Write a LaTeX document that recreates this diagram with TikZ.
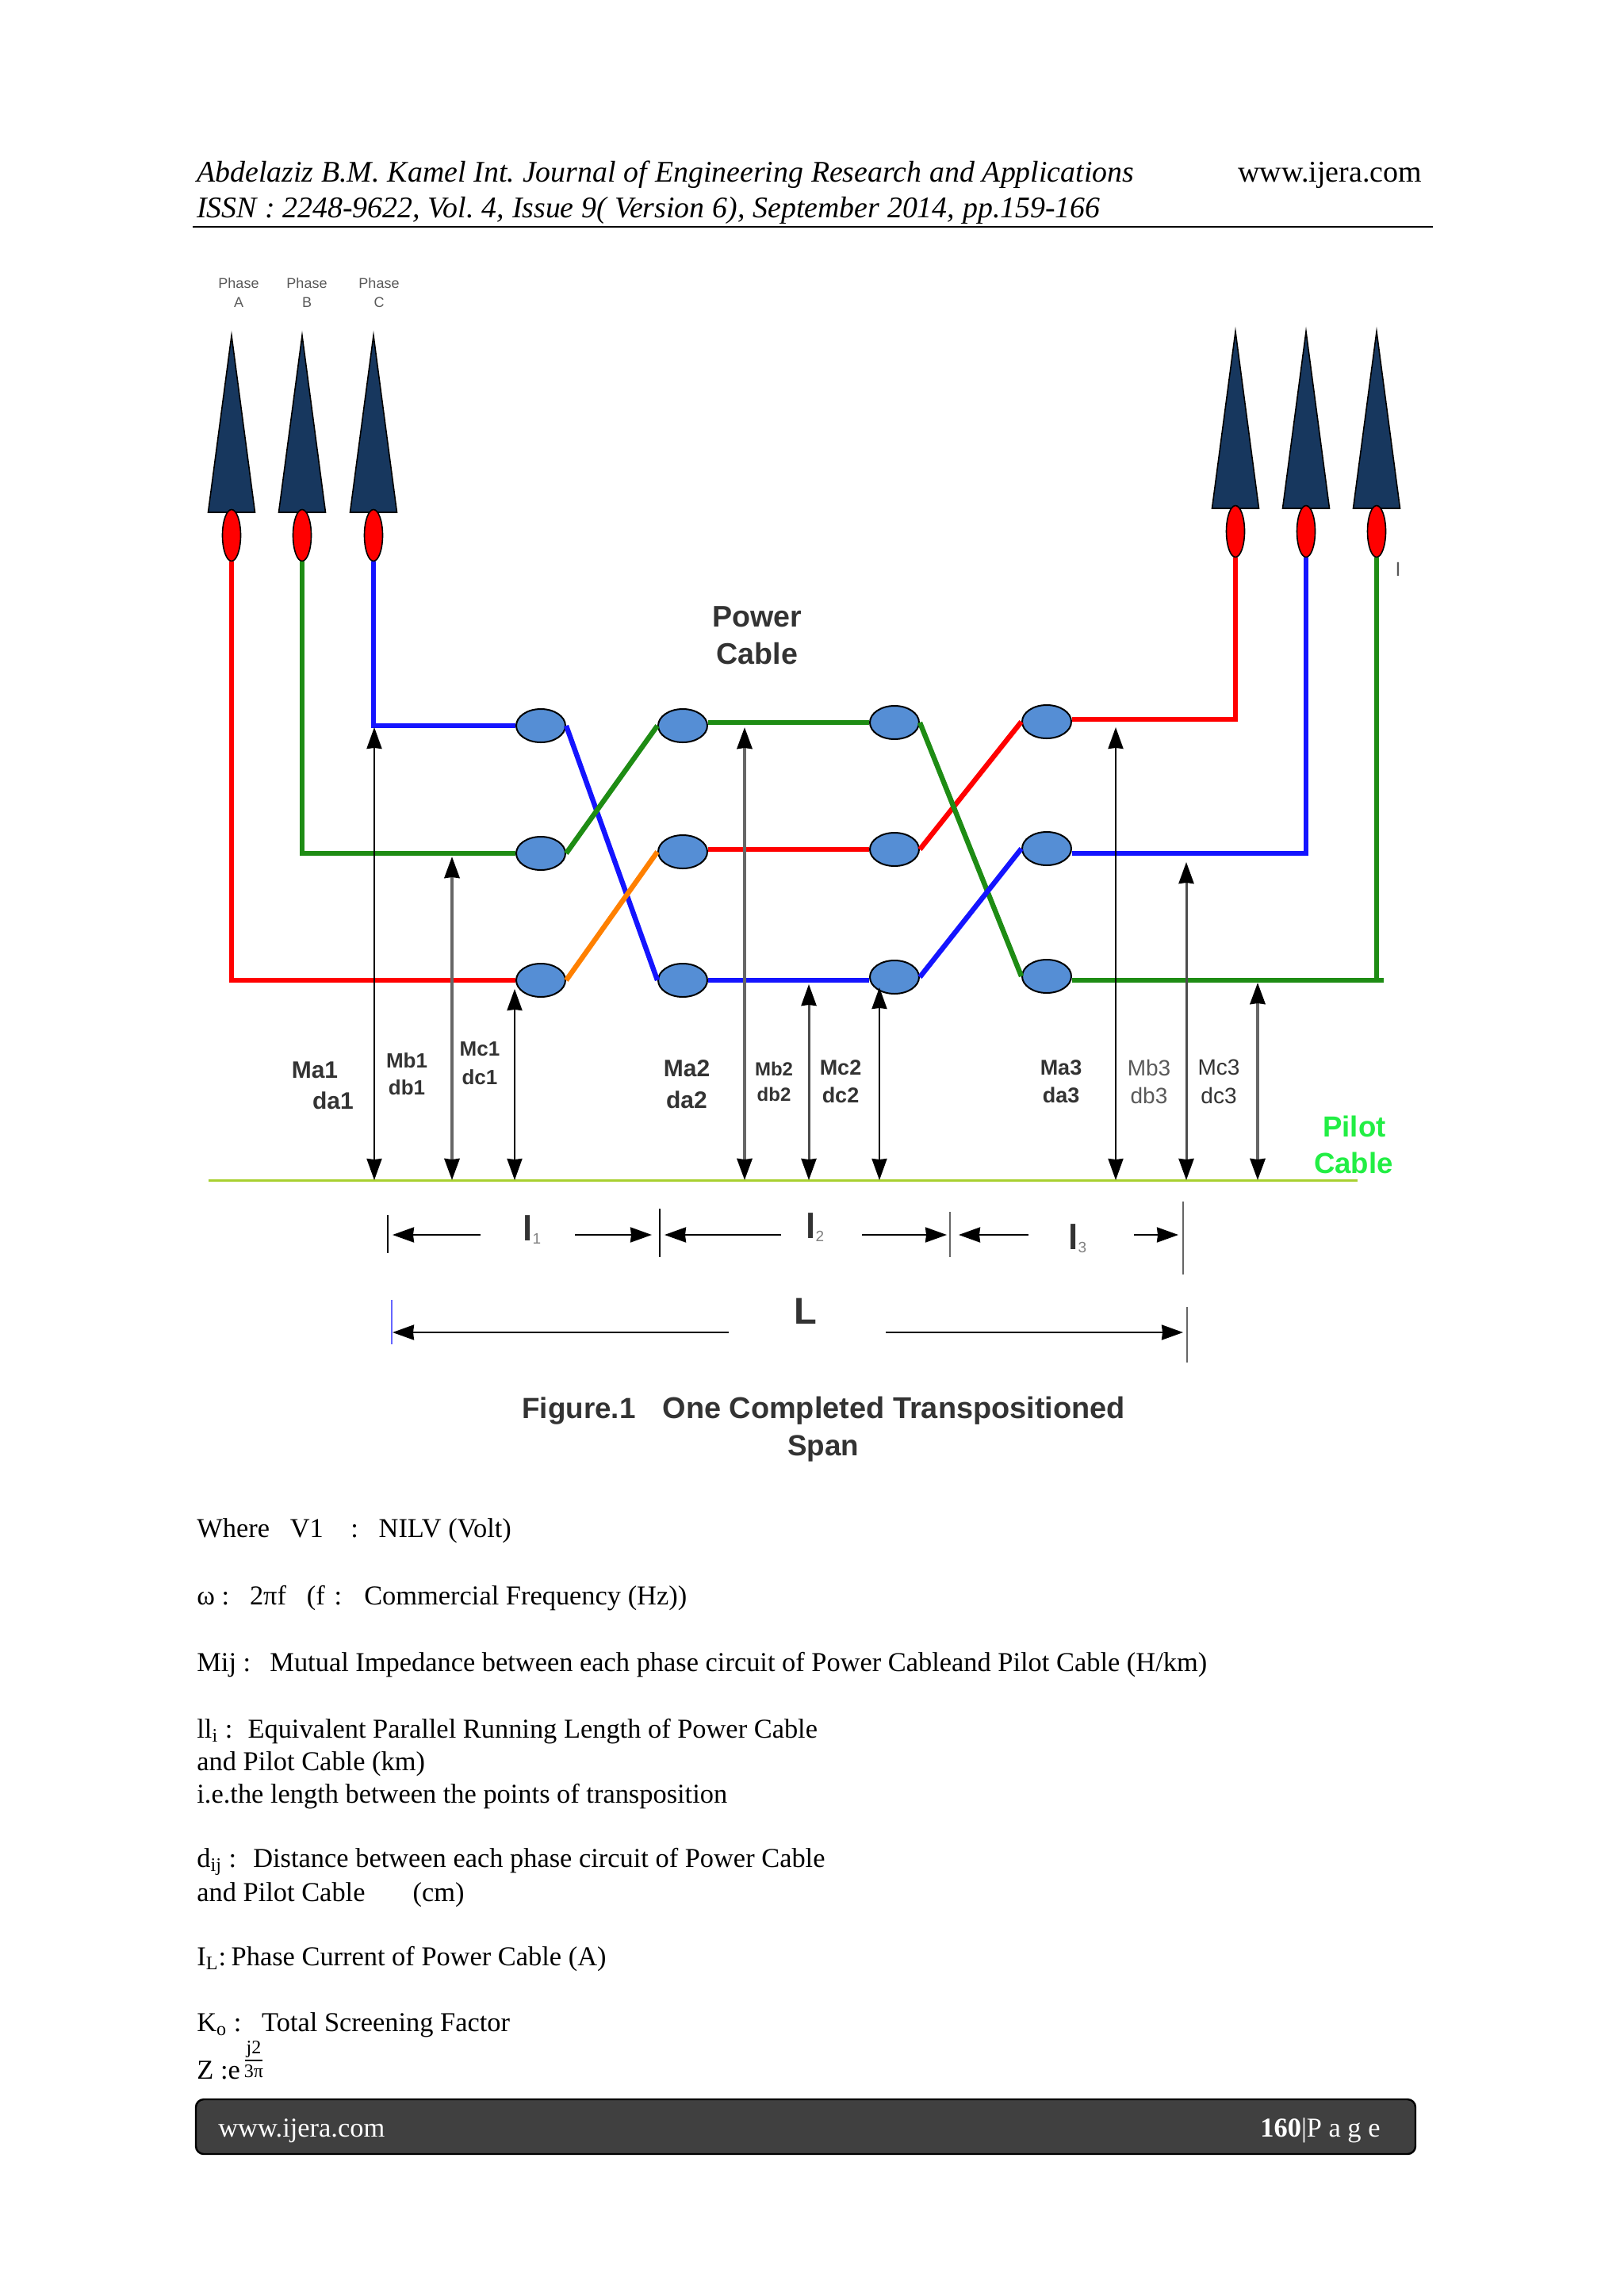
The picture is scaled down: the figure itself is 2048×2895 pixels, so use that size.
\documentclass[tikz,border=0pt]{standalone}
\usepackage{fontspec}
\setmainfont{Liberation Serif}
\newfontfamily\arialf{Liberation Sans}
\usetikzlibrary{arrows.meta,shapes.geometric}
\frenchspacing
\definecolor{polecol}{HTML}{17375E}
\definecolor{jointcol}{HTML}{558ED5}
\definecolor{wgreen}{HTML}{1E8C14}
\definecolor{wblue}{HTML}{1414FF}
\definecolor{pilotcol}{HTML}{A8D030}
\definecolor{pilottxt}{HTML}{22EE44}
\definecolor{footcol}{HTML}{404040}
\newcommand{\lsub}[1]{l\raisebox{-2pt}{\textcolor{black!50}{\mdseries\fontsize{9.5}{9.5}\selectfont #1}}}
\newcommand{\hdgap}{\spaceskip .265em\relax}
\tikzset{
    joint/.style={ellipse,draw=black,line width=1pt,fill=jointcol,minimum width=31pt,minimum height=21pt,inner sep=0pt},
    insul/.style={ellipse,draw=black,line width=.8pt,fill=red,minimum width=11.5pt,minimum height=32.5pt,inner sep=0pt},
    polebody/.style={draw=black,line width=.8pt,fill=polecol},
    wire/.style={line width=3.2pt,line cap=butt,line join=miter},
    thinarr/.style={line width=1.2pt,draw=black},
    greyarr/.style={line width=2pt,draw=black!60},
    midarr/.style={line width=1.5pt,draw=black!70},
    dimarr/.style={line width=1.2pt,draw=black},
    body/.style={anchor=base west,inner sep=0pt,font=\fontsize{17.2}{20}\selectfont},
    head/.style={anchor=base west,inner sep=0pt,font=\itshape\fontsize{18.9}{22}\selectfont\hdgap},
    lab/.style={inner sep=0pt,text=black!80,font=\arialf\bfseries\fontsize{#1}{#1}\selectfont},
    plainlab/.style={inner sep=0pt,text=black!65,font=\arialf\fontsize{#1}{#1}\selectfont}
}
\begin{document}
\begin{tikzpicture}[x=.5pt,y=-.5pt,>={Stealth[length=13.5pt,width=9.5pt,inset=.5pt,color=black]}]
    \useasboundingbox (0,0) rectangle (2048,2895);
    \node[head] (hda) at (248,230) {Abdelaziz B.M. Kamel Int. Journal of Engineering Research and Applications};
    \node[head] (hdb) at (248,274) {ISSN : 2248-9622, Vol. 4, Issue 9( Version 6), September 2014, pp.159-166};
    \node[anchor=base west,inner sep=0pt,font=\fontsize{19}{22}\selectfont] (hdc) at (1561,230) {www.ijera.com};
    \coordinate (rulea) at (243,286);
    \coordinate (ruleb) at (1807,286);
    \draw[line width=1pt] (rulea)--(ruleb);
    \foreach \x/\n/\t in {301/a/A,387/b/B,478/c/C}
    {
        \node[plainlab=9] (pt\n) at (\x,357) {Phase};
        \node[plainlab=9] (pl\n) at (\x,381) {\t};
    }
    \foreach \x/\n in {292/a,381/b,471/c}
    {
        \draw[polebody] ({\x-29.5},646)--(\x,423)--({\x+29.5},646)--cycle;
        \node[insul] (i\n) at (\x,675) {};
    }
    \foreach \x/\n in {1558/a,1647/b,1736/c}
    {
        \draw[polebody] ({\x-29.5},641)--(\x,418)--({\x+29.5},641)--cycle;
        \node[insul] (o\n) at (\x,670) {};
    }
    \foreach \x/\n/\ya/\yb/\yc in {682/1/915/1076/1236,861/2/915/1074/1236,1128/3/911/1071/1232,1320/4/910/1070/1231}
    {
        \node[joint] (j1\n) at (\x,\ya) {};
        \node[joint] (j2\n) at (\x,\yb) {};
        \node[joint] (j3\n) at (\x,\yc) {};
    }
    \draw[wire,wblue] (ic.south)|-(j11.west);
    \draw[wire,wgreen] (ib.south)|-(j21.west);
    \draw[wire,red] (ia.south)|-(j31.west);
    \draw[wire,wblue] (j11.east)--(j32.west);
    \draw[wire,wgreen] (j21.east)--(j12.west);
    \draw[wire,orange] (j31.east)--(j22.west);
    \draw[wire,wgreen] (j12.east|-j13)--(j13.west);
    \draw[wire,red] (j22.east|-j23)--(j23.west);
    \draw[wire,wblue] (j32.east)--(j33.west|-j32);
    \draw[wire,red] (j23.east)--(j14.west);
    \draw[wire,wgreen] (j13.east)--(j34.west);
    \draw[wire,wblue] (j33.east)--(j24.west);
    \coordinate (rcorn) at (1559,907);
    \coordinate (bcorn) at (1648,1076);
    \coordinate (gend) at (1745,1236);
    \draw[wire,red] (j14.east|-rcorn)-|(oa.south);
    \draw[wire,wblue] (j24.east|-bcorn)-|(ob.south);
    \draw[wire,wgreen] (j34.east|-gend)--(gend);
    \draw[wire,wgreen] (oc.south)--(oc.south|-gend);
    \coordinate (pilota) at (263,1488);
    \coordinate (pilotb) at (1712,1488);
    \draw[line width=1.5pt,pilotcol] (pilota)--(pilotb);
    \foreach \n/\x/\y/\s in {a1/472/917/thinarr,b1/570/1080/greyarr,c1/649/1247/thinarr,a2/939/917/greyarr,b2/1020/1241/midarr,c2/1109/1245/thinarr,a3/1407/917/thinarr,b3/1496/1087/midarr,c3/1586/1239/greyarr}
    {
        \coordinate (t\n) at (\x,\y);
        \coordinate (f\n) at (\x,1488);
        \draw[<->,\s] (t\n)--(f\n);
    }
    \foreach \n/\x/\ya/\yb/\c in {p/489/1532/1580/black,q/832/1524/1585/black,r/1198/1528/1585/black!60,s/1492/1515/1607/black!60,u/494/1639/1695/blue!60,v/1497/1648/1718/black!60}
    {
        \coordinate (k\n) at (\x,\ya);
        \coordinate (m\n) at (\x,\yb);
        \draw[line width=1.2pt,\c] (k\n)--(m\n);
    }
    \foreach \n/\xa/\xb/\y in {a/606/495/1557,b/725/822/1557,c/985/838/1557,d/1087/1194/1557,e/1297/1209/1557,g/1430/1486/1557,h/919/495/1680,i/1117/1492/1680}
    {
        \coordinate (ds\n) at (\xa,\y);
        \coordinate (de\n) at (\xb,\y);
        \draw[->,dimarr] (ds\n)--(de\n);
    }
    \node[lab=22,anchor=west] (la) at (659,1551) {\lsub{1}};
    \node[lab=22,anchor=west] (lb) at (1016,1548) {\lsub{2}};
    \node[lab=22,anchor=west] (lc) at (1347,1562) {\lsub{3}};
    \node[lab=23.5] (ll) at (1016,1653) {L};
    \node[lab=18.8] (pca) at (955,778) {Power};
    \node[lab=18.8] (pcb) at (955,824) {Cable};
    \node[lab=18.3,text=pilottxt] (pia) at (1708,1420) {Pilot};
    \node[lab=18.3,text=pilottxt] (pib) at (1707,1466) {Cable};
    \node[plainlab=12.5,text=black!65] (stray) at (1763,718) {I};
    \node[lab=15] (ma1) at (397,1349) {Ma1};
    \node[lab=15] (da1) at (420,1388) {da1};
    \node[lab=13] (mb1) at (513,1337) {Mb1};
    \node[lab=13] (db1) at (513,1371) {db1};
    \node[lab=13] (mc1) at (605,1323) {Mc1};
    \node[lab=13] (dc1) at (605,1358) {dc1};
    \node[lab=15] (ma2) at (866,1347) {Ma2};
    \node[lab=15] (da2) at (866,1387) {da2};
    \node[lab=12] (mb2) at (976,1348) {Mb2};
    \node[lab=12] (db2) at (976,1380) {db2};
    \node[lab=13.5] (mc2) at (1060,1346) {Mc2};
    \node[lab=13.5] (dc2) at (1060,1381) {dc2};
    \node[lab=13.5] (ma3) at (1338,1346) {Ma3};
    \node[lab=13.5] (da3) at (1338,1381) {da3};
    \node[plainlab=14] (mb3) at (1449,1346) {Mb3};
    \node[plainlab=14] (db3) at (1449,1381) {db3};
    \node[plainlab=14,text=black!80] (mc3) at (1537,1346) {Mc3};
    \node[plainlab=14,text=black!80] (dc3) at (1537,1381) {dc3};
    \node[lab=18.4,anchor=west] (figa) at (658,1779) {Figure.1\hspace{17pt}{\fontsize{18.95}{19}\selectfont One Completed Transpositioned}};
    \node[lab=18.4] (figb) at (1038,1826) {Span};
    \node[body] (ta) at (248,1938) {Where~~~V1~~~~:~~~NILV (Volt)};
    \node[body] (tb) at (248,2023) {ω :~~~2πf~~~(f\hspace{6pt}:\hspace{9.7pt}~Commercial Frequency (Hz))};
    \node[body] (tc) at (248,2107) {Mij~:~~\hspace{3.5pt}Mutual Impedance between each phase circuit of Power Cableand Pilot Cable (H/km)};
    \node[body] (td) at (248,2191) {ll\textsubscript{i}~:~~\hspace{1pt}Equivalent Parallel Running Length of Power Cable};
    \node[body] (te) at (248,2232) {and Pilot Cable (km)};
    \node[body] (tf) at (248,2273) {i.e.the length between the points of transposition};
    \node[body] (tg) at (248,2354) {d\textsubscript{ij}~:~~\hspace{2pt}Distance between each phase circuit of Power Cable};
    \node[body] (th) at (248,2397) {and Pilot Cable~~~~~~~(cm)};
    \node[body] (ti) at (248,2478) {I\textsubscript{L}:\hspace{3.3pt}Phase Current of Power Cable (A)};
    \node[body] (tj) at (248,2561) {K\textsubscript{o}~:~~~Total Screening Factor};
    \node[body] (tk) at (248,2621) {Z :e};
    \node[inner sep=0pt,font=\fontsize{12}{13}\selectfont] (fa) at (320,2584) {j2};
    \node[inner sep=0pt,font=\fontsize{12}{13}\selectfont] (fb) at (320,2612) {3π};
    \coordinate (fba) at (309,2598);
    \coordinate (fbb) at (331,2598);
    \draw[line width=.8pt] (fba)--(fbb);
    \draw[fill=footcol,draw=black,line width=1.2pt,rounded corners=5pt] (247,2647) rectangle (1785,2716);
    \node[body,text=white] (fta) at (275,2694) {www.ijera.com};
    \node[body,text=white] (ftb) at (1589,2694) {\textbf{160}|P~a~g~e};
\end{tikzpicture}
\end{document}
